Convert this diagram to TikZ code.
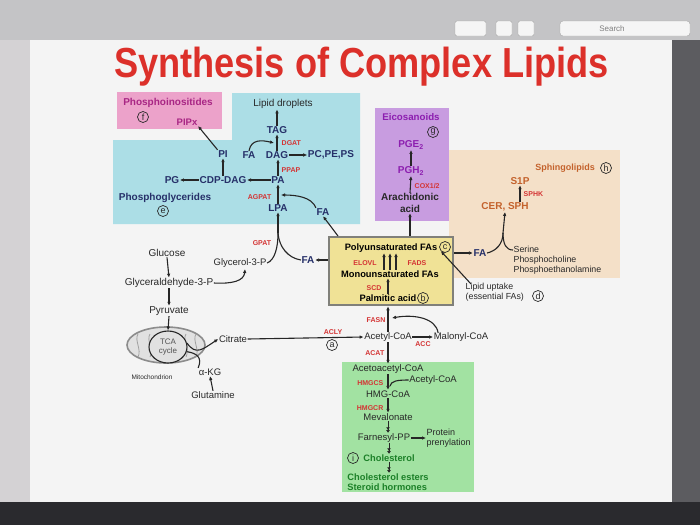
\documentclass[tikz,border=0pt]{standalone}
\usepackage{fontspec}
\setmainfont{Liberation Sans}
\usetikzlibrary{arrows.meta,calc,shapes.geometric}
\definecolor{titred}{RGB}{220,48,42}
\definecolor{navy}{RGB}{38,48,105}
\definecolor{enzred}{RGB}{212,52,52}
\definecolor{magt}{RGB}{168,38,132}
\definecolor{purp}{RGB}{140,30,175}
\definecolor{orng}{RGB}{196,98,44}
\definecolor{grn}{RGB}{28,128,40}
\definecolor{txt}{RGB}{40,40,40}
\definecolor{cyanbg}{RGB}{172,222,230}
\definecolor{pinkbg}{RGB}{236,162,202}
\definecolor{purpbg}{RGB}{200,156,224}
\definecolor{peachbg}{RGB}{244,224,200}
\definecolor{greenbg}{RGB}{162,226,162}
\definecolor{boxbg}{RGB}{240,226,150}
\definecolor{boxline}{RGB}{128,128,122}
\definecolor{bgl}{RGB}{212,210,212}
\definecolor{topbar}{RGB}{196,196,198}
\definecolor{slide}{RGB}{244,244,244}
\definecolor{darkr}{RGB}{92,92,96}
\definecolor{darkb}{RGB}{42,42,46}
\definecolor{mitog}{RGB}{200,200,200}
\newcommand{\myfs}[1]{\fontsize{#1}{#1}\selectfont}
\newcommand{\myfsl}[2]{\fontsize{#1}{#2}\selectfont}
\tikzset{
  rg/.style={inner sep=0.5pt, font=\myfs{9.5}, text=txt},
  rgs/.style={inner sep=0.5pt, font=\myfsl{8.8}{10}, text=txt, align=left},
  nv/.style={inner sep=0.5pt, font=\bfseries\myfs{10}, text=navy},
  bx/.style={inner sep=0.5pt, font=\bfseries\myfs{9.3}, text=black},
  enz/.style={inner sep=0.5pt, font=\bfseries\myfs{7}, text=enzred},
  cl/.style={circle, draw=txt, line width=0.7pt, inner sep=0pt, minimum size=11pt, font=\myfs{9}, text=txt},
  ar/.style={-{Latex[length=4pt,width=3.6pt]}, line width=1.1pt, draw=black!85},
  ln/.style={line width=1.1pt, draw=black!85},
  ms/.style={-{Latex[length=2.8pt,width=4pt]Latex[length=2.8pt,width=4pt]}, line width=1pt, draw=black!85}
}
\begin{document}
\begin{tikzpicture}[x=1pt,y=-1pt]
\useasboundingbox (0,0) rectangle (700,525);
% photo frame
\fill[bgl] (0,0) rectangle (700,525);
\fill[topbar] (0,0) rectangle (700,40);
\fill[slide] (30,40) rectangle (672,502);
\fill[darkr] (672,40) rectangle (700,525);
\fill[darkb] (0,502) rectangle (700,525);
\draw[gray!70, fill=white!92!gray, rounded corners=3] (560,21) rectangle (690,36);
\node[font=\myfs{8}, text=gray, inner sep=0pt] (search) at (612,28.5) {Search};
\draw[gray!70, fill=white!92!gray, rounded corners=2] (455,21) rectangle (486,36);
\draw[gray!70, fill=white!92!gray, rounded corners=2] (496,21) rectangle (512,36);
\draw[gray!70, fill=white!92!gray, rounded corners=2] (518,21) rectangle (534,36);

% title
\node[anchor=base, inner sep=0pt, font=\bfseries\myfs{42}, text=titred] (title) at (361.5,77) {\scalebox{0.862}[1]{Synthesis of Complex Lipids}};

% background regions
\fill[pinkbg] (117,92) rectangle (222,129);
\fill[cyanbg] (113,140) -- (232,140) -- (232,93) -- (360,93) -- (360,224) -- (113,224) -- cycle;
\fill[purpbg] (375,108) rectangle (449,221);
\fill[peachbg] (449,150) rectangle (620,278);
\fill[greenbg] (342,362) rectangle (474,492);

% Phosphoinositides
\node[inner sep=0.5pt, font=\bfseries\myfs{10}, text=magt] (phi) at (168,103) {Phosphoinositides};
\node[cl] (cf) at (143,117) {f};
\node[inner sep=0.5pt, font=\bfseries\myfs{9.5}, text=magt] (pipx) at (187,122) {PIPx};

% Phosphoglycerides
\node[rg, font=\myfs{10}] (ld) at (283,104) {Lipid droplets};
\node[nv] (tag) at (277,130) {TAG};
\node[enz, anchor=west] (dgat) at (281,143) {DGAT};
\node[nv] (fa1) at (249,155) {FA};
\node[nv] (dag) at (277,155) {DAG};
\node[nv] (pc) at (331,155) {PC,PE,PS};
\node[nv] (pi) at (223,154) {PI};
\node[enz, anchor=west] (ppap) at (281,170) {PPAP};
\node[nv] (pa) at (278,180) {PA};
\node[nv] (cdp) at (223,180) {CDP-DAG};
\node[nv] (pg) at (172,180) {PG};
\node[inner sep=0.5pt, font=\bfseries\myfs{10}, text=navy] (pgl) at (165,198) {Phosphoglycerides};
\node[cl] (ce) at (163,211) {e};
\node[enz, anchor=east] (agpat) at (272,197) {AGPAT};
\node[nv] (lpa) at (278,208) {LPA};
\node[nv] (fa2) at (323,212) {FA};

\draw[ar] (tag.north) -- (tag.north |- ld.south);
\draw[ar] (dag.north) -- (dag.north |- tag.south);
\coordinate (tagin) at (274,143);
\draw[ar] (fa1.north) .. controls (251,139) and (262,140) .. (tagin);
\draw[ar] (dag.east) -- (pc.west);
\draw[ar] (pi.north west) -- (pipx.south east);
\draw[ar] (pa.north) -- (pa.north |- dag.south);
\draw[ar] (pa.west) -- (cdp.east);
\draw[ar] (cdp.west) -- (pg.east);
\draw[ar] (cdp.north) -- (cdp.north |- pi.south);
\draw[ar] (lpa.north) -- (lpa.north |- pa.south);
\coordinate (pain) at (281,195);
\draw[ar] (fa2.north west) .. controls (312,197) and (296,195) .. (pain);

% Eicosanoids
\node[inner sep=0.5pt, font=\bfseries\myfs{9.7}, text=purp] (eico) at (411,117) {Eicosanoids};
\node[cl] (cg) at (433,132) {g};
\node[inner sep=0.5pt, font=\bfseries\myfs{10}, text=purp] (pge) at (411,145) {PGE\textsubscript{2}};
\node[inner sep=0.5pt, font=\bfseries\myfs{10}, text=purp] (pgh) at (411,171) {PGH\textsubscript{2}};
\node[enz, anchor=west] (cox) at (414,186) {COX1/2};
\node[inner sep=0.5pt, font=\bfseries\myfsl{10}{11.5}, text=txt, align=center] (arach) at (410,203) {Arachidonic\\acid};
\draw[ar] (arach.north) -- (pgh.south);
\draw[ar] (pgh.north) -- (pge.south);

% Sphingolipids
\node[inner sep=0.5pt, font=\bfseries\myfs{9}, text=orng] (sph) at (565,168) {Sphingolipids};
\node[cl] (ch) at (606,168) {h};
\node[inner sep=0.5pt, font=\bfseries\myfs{10}, text=orng] (s1p) at (520,181) {S1P};
\node[enz, anchor=west] (sphk) at (523,194) {SPHK};
\node[inner sep=0.5pt, font=\bfseries\myfs{10}, text=orng] (cer) at (505,207) {CER, SPH};
\draw[ar] (s1p.south |- cer.north) -- (s1p.south);

% central box
\node[draw=boxline, line width=2.5pt, fill=boxbg, minimum width=124pt, minimum height=68pt, inner sep=0pt] (box) at (391,271) {};
\node[bx] (poly) at (391,248) {Polyunsaturated FAs};
\node[cl] (cc) at (445,247) {c};
\node[enz] (elovl) at (365,263) {ELOVL};
\node[enz] (fads) at (417,263) {FADS};
\node[bx] (mono) at (390,274) {Monounsaturated FAs};
\node[enz] (scd) at (374,288) {SCD};
\node[bx] (palm) at (388,298) {Palmitic acid};
\node[cl] (cb) at (423,298) {b};
\foreach \i/\dx in {1/-6,2/0,3/6} {
  \path ([xshift=\dx pt]mono.north) coordinate (m\i);
  \draw[ar] (m\i) -- (m\i |- poly.south);
}
\draw[ar] (palm.north) -- (palm.north |- mono.south);

% FAs around the box
\node[nv] (fa3) at (308,260) {FA};
\node[nv] (fa4) at (480,253) {FA};
\draw[ar] (box.west |- fa3) -- (fa3.east);
\draw[ar] (box.east |- fa4) -- (fa4.west);
\coordinate (boxtl) at (338,236);
\draw[ar] (boxtl) -- (fa2.south);
\draw[ar] (box.north -| arach.south) -- (arach.south);

% glycolysis side
\node[enz] (gpat) at (262,243) {GPAT};
\node[rg] (gly3p) at (240,263) {Glycerol-3-P};
\node[rg, font=\myfs{10}] (glucose) at (167,253) {Glucose};
\node[rg, font=\myfs{10}] (ga3p) at (169,283) {Glyceraldehyde-3-P};
\node[rg, font=\myfs{10}] (pyr) at (169,311) {Pyruvate};
\coordinate (j1) at (278,233);
\draw[ln] (gly3p.east) .. controls (275,260) and (278,247) .. (j1);
\draw[ln] (fa3.west) .. controls (288,258) and (279,247) .. (j1);
\draw[ar] (j1) -- (lpa.south);
\draw[ar] (glucose.south) -- (ga3p.north);
\draw[ar] (ga3p.south) -- (pyr.north);
\coordinate (g3pin) at (245,269);
\draw[ar] (ga3p.east) .. controls (232,284) and (244,281) .. (g3pin);

% mitochondrion
\draw[mitog!70!black, line width=1.6pt, fill=mitog!55] (166,345) ellipse [x radius=39, y radius=18];
\foreach \cx in {138,150,186,196} {
  \draw[mitog!80!black, line width=0.8pt] (\cx,334) .. controls (\cx-4,340) and (\cx+4,350) .. (\cx,357);
}
\node[ellipse, draw=black!85, line width=1.1pt, fill=mitog!55, minimum width=38pt, minimum height=32pt, inner sep=0pt, font=\myfsl{8}{8.5}, text=txt!80, align=center] (tca) at (168,347) {TCA\\cycle};
\node[inner sep=0.5pt, font=\myfs{6.5}, text=txt] (mito) at (152,377) {Mitochondrion};
\draw[ar] (pyr.south) -- (tca.north);
\node[rg] (citrate) at (233,339) {Citrate};
\node[rg] (akg) at (210,372) {α-KG};
\node[rg] (glut) at (213,395) {Glutamine};
\draw[ar] (tca.12) .. controls (196,356) and (203,349) .. (citrate.west);
\draw[ln] (tca.-14) .. controls (196,353) and (203,357) .. (akg.north west);
\draw[ar] (glut.north) -- (akg.south);

% acetyl-CoA
\node[enz] (acly) at (333,332) {ACLY};
\node[cl] (ca) at (332,345) {a};
\node[rg] (acetyl) at (388,337) {Acetyl-CoA};
\node[rg] (malonyl) at (461,337) {Malonyl-CoA};
\node[enz] (acc) at (423,344) {ACC};
\node[enz, anchor=east] (fasn) at (386,320) {FASN};
\draw[ar] (citrate.east) -- (acetyl.west);
\draw[ar] (acetyl.east) -- (malonyl.west);
\coordinate (fasnin) at (392,318);
\draw[ar] ($(malonyl.north west)+(5,1)$) .. controls (436,318) and (414,314) .. (fasnin);
\draw[ar] (acetyl.north) -- (acetyl.north |- box.south);

% sphingolipid inputs
\node[rgs, anchor=north west] (serg) at (513,245) {Serine\\Phosphocholine\\Phosphoethanolamine};
\coordinate (j2) at (503,233);
\draw[ln] (fa4.east) .. controls (496,251) and (503,244) .. (j2);
\draw[ln] ($(serg.north west)+(0,5)$) .. controls (506,250) and (503,244) .. (j2);
\draw[ar] (j2) -- (cer.south);

% lipid uptake
\node[rgs, anchor=north west] (lipup) at (465,282) {Lipid uptake\\(essential FAs)};
\node[cl] (cd) at (538,296) {d};
\draw[ar] ($(lipup.north west)+(6,2)$) -- (cc.south west);

% cholesterol branch
\node[enz, anchor=east] (acat) at (385,353) {ACAT};
\node[rg] (acac) at (388,369) {Acetoacetyl-CoA};
\node[enz, anchor=east] (hmgcs) at (384,383) {HMGCS};
\node[rg] (acetyl2) at (433,380) {Acetyl-CoA};
\node[rg] (hmg) at (388,394) {HMG-CoA};
\node[enz, anchor=east] (hmgcr) at (384,408) {HMGCR};
\node[rg] (meval) at (388,417) {Mevalonate};
\node[rg] (farn) at (384,438) {Farnesyl-PP};
\node[rgs, anchor=west, font=\myfsl{9}{9.5}] (prot) at (426,438) {Protein\\prenylation};
\node[inner sep=0.5pt, font=\bfseries\myfs{9.3}, text=grn] (chol) at (389,458) {Cholesterol};
\node[cl] (ci) at (353,458) {i};
\node[inner sep=0.5pt, font=\bfseries\myfsl{9.3}{10}, text=grn, align=left] (ester) at (388,482) {Cholesterol esters\\Steroid hormones};
\draw[ar] (acetyl.south) -- (acac.north);
\draw[ar] (acac.south) -- (hmg.north);
\draw[ln] (acetyl2.west) .. controls (397,380) and (391,381) .. (390,386);
\draw[ar] (hmg.south) -- (meval.north);
\draw[ms] (meval.south) -- (meval.south |- farn.north);
\draw[ar] (farn.east) -- (prot.west);
\draw[ms] (farn.south -| chol.north) -- (chol.north);
\draw[ms] (chol.south) -- (chol.south |- ester.north);
\end{tikzpicture}
\end{document}
